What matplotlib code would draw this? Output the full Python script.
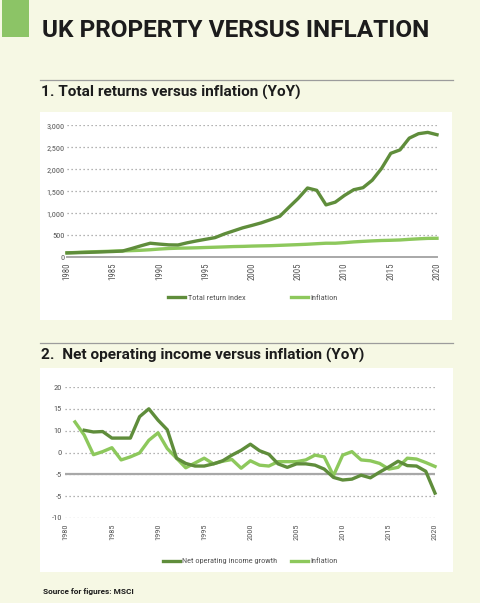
import matplotlib
matplotlib.use('Agg')
import matplotlib.pyplot as plt
import matplotlib.font_manager as fm
from matplotlib.patches import Rectangle
from matplotlib.lines import Line2D
from matplotlib.ticker import FuncFormatter

# ---------------- data ----------------
years1 = list(range(1980, 2021))
total_return_index = [100, 105, 110, 117, 125, 132, 142, 200, 262, 320,
                      300, 283, 280, 330, 372, 410, 447, 530, 600, 670,
                      725, 783, 855, 931, 1138, 1340, 1575, 1522, 1191, 1253,
                      1407, 1536, 1582, 1752, 2018, 2363, 2441, 2708, 2809, 2839,
                      2786]
inflation_index = [100, 110, 120, 127, 133, 140, 146, 152, 160, 172,
                   188, 200, 207, 211, 216, 223, 229, 236, 244, 248,
                   255, 260, 264, 272, 280, 288, 297, 309, 320, 320,
                   333, 350, 362, 373, 382, 387, 394, 408, 420, 430,
                   432]

years_inflation = list(range(1981, 2021))
inflation_yoy = [12.0, 9.0, 4.5, 5.2, 6.1, 3.3, 4.0, 4.9, 7.8, 9.5,
                 5.9, 3.7, 1.5, 2.6, 3.7, 2.4, 3.0, 3.4, 1.4, 3.1,
                 2.1, 1.9, 2.9, 2.9, 2.9, 3.3, 4.4, 4.0, -0.3, 4.4,
                 5.2, 3.3, 3.1, 2.5, 1.2, 1.6, 3.7, 3.5, 2.7, 1.8]
years_noi = list(range(1982, 2021))
noi_growth = [10.1, 9.7, 9.8, 8.3, 8.3, 8.3, 13.2, 15.0, 12.4, 10.2,
              3.7, 2.5, 1.9, 1.9, 2.4, 3.1, 4.4, 5.5, 6.9, 5.4,
              4.6, 2.4, 1.6, 2.4, 2.4, 2.1, 1.2, -0.7, -1.3, -1.1,
              -0.2, -0.8, 0.5, 1.7, 3.0, 2.0, 1.9, 0.7, -4.3]

x_ticks = list(range(1980, 2021, 5))
y1_ticks = [0, 500, 1000, 1500, 2000, 2500, 3000]
y2_ticks = [-10, -5, 0, 5, 10, 15, 20]
y2_ticklabels = ['-10', '-5', '-5', '0', '10', '15', '20']

title = 'UK PROPERTY VERSUS INFLATION'
heading1 = '1. Total returns versus inflation (YoY)'
heading2 = '2.  Net operating income versus inflation (YoY)'
legend1 = ['Total return index', 'Inflation']
legend2 = ['Net operating income growth', 'Inflation']
source = 'Source for figures: MSCI'

# ---------------- style ----------------
BG = '#F6F8E4'
DARK = '#5F8D3B'
LIGHT = '#8DC85C'
BLOCK = '#8CC466'
GRID = '#9A9A9A'
TICK = '#555555'
TXT = '#1C1C1C'

W, H = 480, 603
fig = plt.figure(figsize=(W / 100, H / 100), dpi=100)
fig.patch.set_facecolor(BG)
renderer = fig.canvas.get_renderer()


def fx(x):
    return x / W


def fy(y):
    return 1 - y / H


names = {f.name for f in fm.fontManager.ttflist}
if 'Liberation Sans Narrow' in names:
    NARROW = 'Liberation Sans Narrow'
    GROW = 1.0
elif 'Roboto Condensed' in names:
    NARROW = 'Roboto Condensed'
    GROW = 1.0
else:
    NARROW = 'Roboto'
    GROW = 1.15
HEAD = 'Roboto' if 'Roboto' in names else 'DejaVu Sans'


def fit_size(text, target_px, family, weight='normal', base=10.0):
    t = fig.text(0, 0, text, fontsize=base, family=family, weight=weight)
    w = t.get_window_extent(renderer=renderer).width
    t.remove()
    return base * target_px / w


def pt2px(pt):
    return pt * 100 / 72


# ---------------- background pieces ----------------
fig.patches.append(Rectangle((fx(2), fy(37)), 27 / W, 37 / H, transform=fig.transFigure,
                             facecolor=BLOCK, edgecolor='none', zorder=-2))
fig.patches.append(Rectangle((fx(40), fy(320)), 412 / W, (320 - 112) / H,
                             transform=fig.transFigure, facecolor='white',
                             edgecolor='none', zorder=-2))
fig.patches.append(Rectangle((fx(40), fy(572)), 413 / W, (572 - 368) / H,
                             transform=fig.transFigure, facecolor='white',
                             edgecolor='none', zorder=-2))
for yy in (80.3, 343.3):
    fig.add_artist(Line2D([fx(40), fx(452.7)], [fy(yy), fy(yy)],
                          transform=fig.transFigure, color='#9C9C9C', lw=0.9))

# ---------------- texts ----------------
fs_title = fit_size(title, 387, HEAD, 'bold')
fig.text(fx(41.5), fy(37.3), title, fontsize=fs_title, family=HEAD, weight='bold',
         color=TXT, va='baseline', ha='left')
fs_h1 = fit_size(heading1, 261, HEAD, 'bold')
fig.text(fx(41), fy(96.7), heading1, fontsize=fs_h1, family=HEAD, weight='bold',
         color=TXT, va='baseline', ha='left')
fs_h2 = fit_size(heading2, 325, HEAD, 'bold')
fig.text(fx(41), fy(359.5), heading2, fontsize=fs_h2, family=HEAD, weight='bold',
         color=TXT, va='baseline', ha='left')
fs_src = fit_size(source, 91.5, HEAD, 'bold')
fig.text(fx(42.7), fy(593.7), source, fontsize=fs_src, family=HEAD, weight='bold',
         color=TXT, va='baseline', ha='left')

fs_y1 = fit_size('3,000', 17.7, NARROW) * GROW
fs_x = fit_size('1980', 17.0, NARROW) * GROW
fs_y2 = fit_size('-10', 10.3, NARROW) * GROW
fs_leg = fit_size(legend1[0], 58.0, NARROW) * GROW

grid_kw = dict(linestyle=(0, (1, 2.2)), color=GRID, lw=0.9)

# ---------------- chart 1 ----------------
ax1 = fig.add_axes([fx(67), fy(257.3), 370 / W, 132 / H])
ax1.set_facecolor('white')
l1a, = ax1.plot(years1, total_return_index, color=DARK, lw=2.4, clip_on=False,
                solid_joinstyle='round', zorder=3)
l1b, = ax1.plot(years1, inflation_index, color=LIGHT, lw=2.4, clip_on=False,
                solid_joinstyle='round', zorder=2)
ax1.set_xlim(1980, 2020)
ax1.set_ylim(0, 3000)
ax1.set_yticks(y1_ticks)
ax1.yaxis.set_major_formatter(FuncFormatter(lambda v, p: f'{v:,.0f}'))
ax1.set_xticks(x_ticks)
ax1.yaxis.grid(True, **grid_kw)
ax1.set_axisbelow(True)
for s in ('top', 'right', 'left'):
    ax1.spines[s].set_visible(False)
ax1.spines['bottom'].set_color('#A8A8A8')
ax1.spines['bottom'].set_linewidth(1.4)
ax1.tick_params(axis='y', length=0, pad=1.5, labelsize=fs_y1, labelcolor=TICK)
ax1.tick_params(axis='x', length=0, pad=3.4, labelsize=fs_x, labelcolor=TICK,
                labelrotation=90)
for lab in ax1.get_xticklabels() + ax1.get_yticklabels():
    lab.set_family(NARROW)

em = pt2px(fs_leg)
fig.legend(handles=[l1a, l1b], labels=legend1, loc='center',
           bbox_to_anchor=(fx(253), fy(297.7)), bbox_transform=fig.transFigure,
           ncol=2, frameon=False, handlelength=17 / em,
           handletextpad=2.5 / em, columnspacing=46 / em, borderpad=0,
           prop={'family': NARROW, 'size': fs_leg}, labelcolor=TICK)

# ---------------- chart 2 ----------------
ax2 = fig.add_axes([fx(65), fy(518), 370 / W, 131 / H])
ax2.set_facecolor('white')
l2a, = ax2.plot(years_noi, noi_growth, color=DARK, lw=2.4, clip_on=False,
                solid_joinstyle='round', zorder=3)
l2b, = ax2.plot(years_inflation, inflation_yoy, color=LIGHT, lw=2.4, clip_on=False,
                solid_joinstyle='round', zorder=2)
ax2.set_xlim(1979.92, 2020)
ax2.set_ylim(-10, 20)
ax2.set_yticks(y2_ticks)
ax2.set_yticklabels(y2_ticklabels)
ax2.set_xticks(x_ticks)
ax2.yaxis.grid(True, **grid_kw)
ax2.set_axisbelow(True)
ax2.axhline(0, color='#A8A8A8', lw=1.6, zorder=1.5)
for s in ('top', 'right', 'left', 'bottom'):
    ax2.spines[s].set_visible(False)
ax2.tick_params(axis='y', length=0, pad=2.2, labelsize=fs_y2, labelcolor=TICK)
ax2.tick_params(axis='x', length=0, pad=3.8, labelsize=fs_x * 0.95, labelcolor=TICK,
                labelrotation=90)
for lab in ax2.get_xticklabels() + ax2.get_yticklabels():
    lab.set_family(NARROW)

fig.legend(handles=[l2a, l2b], labels=legend2, loc='center',
           bbox_to_anchor=(fx(250.3), fy(561)), bbox_transform=fig.transFigure,
           ncol=2, frameon=False, handlelength=17 / em,
           handletextpad=2.0 / em, columnspacing=14 / em, borderpad=0,
           prop={'family': NARROW, 'size': fs_leg}, labelcolor=TICK)

fig.savefig('out.png', dpi=100, facecolor=BG)
